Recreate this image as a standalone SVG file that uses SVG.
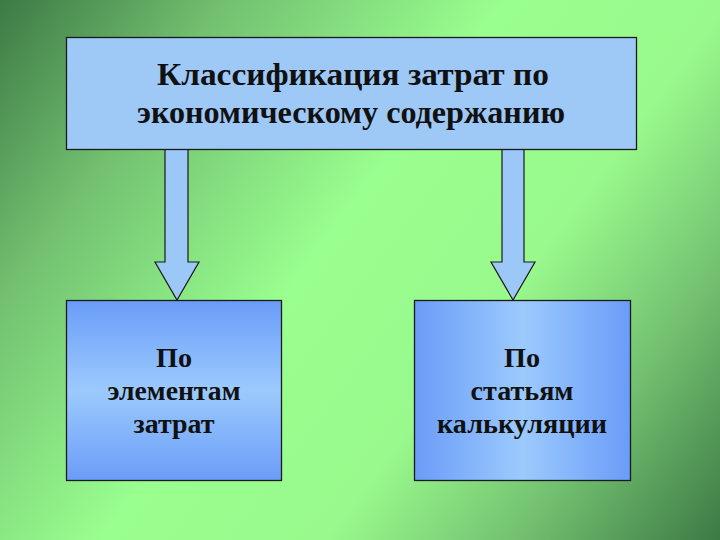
<svg xmlns="http://www.w3.org/2000/svg" width="720" height="540" viewBox="0 0 720 540">
<defs>
<linearGradient id="bg" x1="0" y1="0" x2="720" y2="540" gradientUnits="userSpaceOnUse">
<stop offset="0" stop-color="#3d7a45"/>
<stop offset="0.2" stop-color="#72c070"/>
<stop offset="0.45" stop-color="#99ff8f"/>
<stop offset="0.65" stop-color="#99f98c"/>
<stop offset="0.82" stop-color="#72c070"/>
<stop offset="1" stop-color="#3d7a45"/>
</linearGradient>
<linearGradient id="gv" x1="0" y1="0" x2="0" y2="1">
<stop offset="0" stop-color="#6a9cf8"/>
<stop offset="0.5" stop-color="#9ccafd"/>
<stop offset="1" stop-color="#6a9cf8"/>
</linearGradient>
<linearGradient id="gh" x1="0" y1="0" x2="1" y2="0">
<stop offset="0" stop-color="#6a9cf8"/>
<stop offset="0.5" stop-color="#9ccafd"/>
<stop offset="1" stop-color="#6a9cf8"/>
</linearGradient>
<style>
.box{stroke:#1a1a1a;stroke-width:1.3}
.arrow{fill:#9cc8f8;stroke:#1a1a1a;stroke-width:1.2;stroke-linejoin:miter}
.t{font-weight:bold;fill:#111;text-anchor:middle}
</style>
</defs>
<rect width="720" height="540" fill="url(#bg)"/>
<g id="connectors">
<path class="arrow" d="M165,150 V262 H155 L177,300 L199,262 H188 V150"/>
<path class="arrow" d="M502,150 V262 H491 L513,300 L535,262 H524 V150"/>
</g>
<g id="top" font-family="Liberation Serif, Times New Roman, serif" font-size="31">
<rect class="box" x="66.5" y="37.5" width="570" height="112" fill="#9ec9f7"/>
<text class="t" x="353" y="85" textLength="392" lengthAdjust="spacingAndGlyphs">Классификация затрат по</text>
<text class="t" x="351" y="123" textLength="428" lengthAdjust="spacingAndGlyphs">экономическому содержанию</text>
</g>
<g id="left" font-family="Liberation Serif, Times New Roman, serif" font-size="28">
<rect class="box" x="66.5" y="300.5" width="215" height="180" fill="url(#gv)"/>
<text class="t" x="174" y="367" textLength="36" lengthAdjust="spacingAndGlyphs">По</text>
<text class="t" x="174" y="400" textLength="133" lengthAdjust="spacingAndGlyphs">элементам</text>
<text class="t" x="174" y="433" textLength="81" lengthAdjust="spacingAndGlyphs">затрат</text>
</g>
<g id="right" font-family="Liberation Serif, Times New Roman, serif" font-size="28">
<rect class="box" x="414.5" y="300.5" width="216" height="180" fill="url(#gh)"/>
<text class="t" x="522" y="367" textLength="36" lengthAdjust="spacingAndGlyphs">По</text>
<text class="t" x="522" y="400" textLength="103" lengthAdjust="spacingAndGlyphs">статьям</text>
<text class="t" x="522" y="433" textLength="170" lengthAdjust="spacingAndGlyphs">калькуляции</text>
</g>
</svg>
